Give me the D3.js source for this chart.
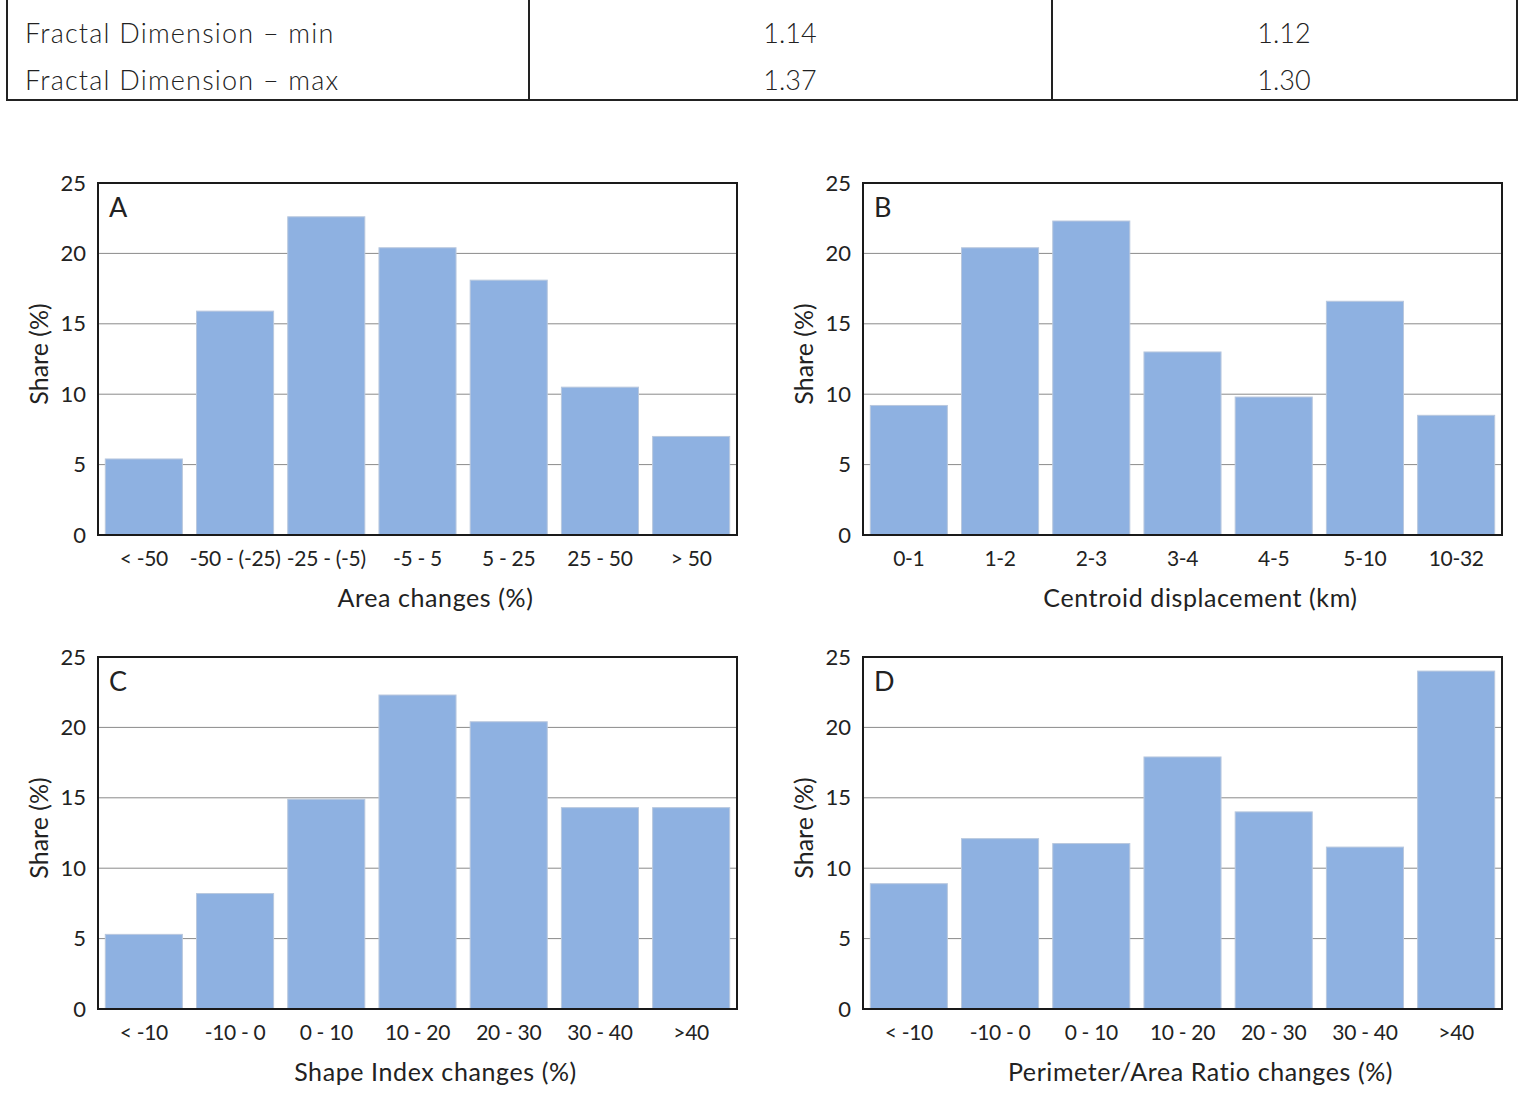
<!DOCTYPE html>
<html>
<head>
<meta charset="utf-8">
<script src="https://cdn.jsdelivr.net/npm/d3@7"></script>
<style>
  body { margin: 0; background: #fff; }
  svg text { font-family: "Lato", "Open Sans", sans-serif; fill: #222; }
</style>
</head>
<body>
<svg id="chart" width="1531" height="1099"></svg>
<script>
// table rows (the top of the table is cut off in the figure)
var tableRows = ["Fractal Dimension \u2013 min", "Fractal Dimension \u2013 max"];
var tableCol1 = ["1.14", "1.37"];
var tableCol2 = ["1.12", "1.30"];

// panel categories and values (share, %)
var catsA = ["< -50", "-50 - (-25)", "-25 - (-5)", "-5 - 5", "5 - 25", "25 - 50", "> 50"];
var valsA = [5.4, 15.9, 22.6, 20.4, 18.1, 10.5, 7.0];
var catsB = ["0-1", "1-2", "2-3", "3-4", "4-5", "5-10", "10-32"];
var valsB = [9.2, 20.4, 22.3, 13.0, 9.8, 16.6, 8.5];
var catsC = ["< -10", "-10 - 0", "0 - 10", "10 - 20", "20 - 30", "30 - 40", ">40"];
var valsC = [5.3, 8.2, 14.9, 22.3, 20.4, 14.3, 14.3];
var catsD = ["< -10", "-10 - 0", "0 - 10", "10 - 20", "20 - 30", "30 - 40", ">40"];
var valsD = [8.9, 12.1, 11.75, 17.9, 14.0, 11.5, 24.0];
var yTicks = [0, 5, 10, 15, 20, 25];
var xTitles = ["Area changes (%)", "Centroid displacement (km)", "Shape Index changes (%)", "Perimeter/Area Ratio changes (%)"];
var panelLabels = ["A", "B", "C", "D"];

var svg = d3.select("#chart");

// ---- table fragment ----
var tbl = svg.append("g");
tbl.append("path")
    .attr("d", "M7,0 V100 H1517 V0 M529,0 V100 M1052,0 V100")
    .attr("fill", "none")
    .attr("stroke", "#222")
    .attr("stroke-width", 2);

tableRows.forEach(function (r, i) {
    var y = 43 + i * 47;
    tbl.append("text").attr("x", 25).attr("y", y).attr("font-size", 27).attr("font-weight", 300)
        .attr("letter-spacing", 1.2).text(r);
    tbl.append("text").attr("x", 790).attr("y", y).attr("text-anchor", "middle").attr("font-size", 27).attr("font-weight", 300).text(tableCol1[i]);
    tbl.append("text").attr("x", 1284).attr("y", y).attr("text-anchor", "middle").attr("font-size", 27).attr("font-weight", 300).text(tableCol2[i]);
});

// ---- panels ----
var panels = [
    {x0: 98, y0: 183, cats: catsA, vals: valsA},
    {x0: 863, y0: 183, cats: catsB, vals: valsB},
    {x0: 98, y0: 657, cats: catsC, vals: valsC},
    {x0: 863, y0: 657, cats: catsD, vals: valsD}
];
var W = 639, H = 352;

panels.forEach(function (p, k) {
    var g = svg.append("g").attr("transform", "translate(" + p.x0 + "," + p.y0 + ")");

    var x = d3.scaleBand().domain(p.cats).range([0, W]).paddingInner(0.155).paddingOuter(0.08);
    var y = d3.scaleLinear().domain([0, 25]).range([H, 0]);

    // gridlines
    g.append("g").selectAll("line")
        .data(yTicks.filter(function (t) { return t > 0 && t < 25; }))
        .enter().append("line")
        .attr("x1", 0).attr("x2", W)
        .attr("y1", function (d) { return y(d); })
        .attr("y2", function (d) { return y(d); })
        .attr("stroke", "#8a8a8a").attr("stroke-width", 1);

    // bars
    g.append("g").selectAll("rect")
        .data(p.vals)
        .enter().append("rect")
        .attr("x", function (d, i) { return x(p.cats[i]); })
        .attr("width", x.bandwidth())
        .attr("y", function (d) { return y(d); })
        .attr("height", function (d) { return H - y(d); })
        .attr("fill", "#8eb1e1")
        .attr("stroke", "#b9c8de")
        .attr("stroke-width", 1);

    // frame
    g.append("rect").attr("x", 0).attr("y", 0).attr("width", W).attr("height", H)
        .attr("fill", "none").attr("stroke", "#1a1a1a").attr("stroke-width", 2);

    // y axis labels
    var ya = g.append("g").call(d3.axisLeft(y).tickValues(yTicks).tickSize(0).tickPadding(12));
    ya.select(".domain").remove();
    ya.selectAll("text").attr("font-size", 22).attr("font-family", "Lato, sans-serif").attr("fill", "#222");

    // x axis labels
    var xa = g.append("g").attr("transform", "translate(0," + H + ")")
        .call(d3.axisBottom(x).tickSize(0).tickPadding(16));
    xa.select(".domain").remove();
    xa.selectAll("text").attr("font-size", 21).attr("font-family", "Lato, sans-serif").attr("fill", "#222")
        .attr("letter-spacing", -0.3).attr("dy", "0.71em");

    // panel letter
    g.append("text").attr("x", 11).attr("y", 34).attr("font-size", 27).text(panelLabels[k]);

    // axis titles
    g.append("text")
        .attr("transform", "translate(" + (-50) + "," + (H / 2 - 5) + ") rotate(-90)")
        .attr("text-anchor", "middle")
        .attr("font-size", 25)
        .text("Share (%)");
    g.append("text")
        .attr("x", W / 2 + 18).attr("y", H + 72)
        .attr("text-anchor", "middle")
        .attr("font-size", 25)
        .attr("letter-spacing", 0.6)
        .text(xTitles[k]);
});
</script>
</body>
</html>
